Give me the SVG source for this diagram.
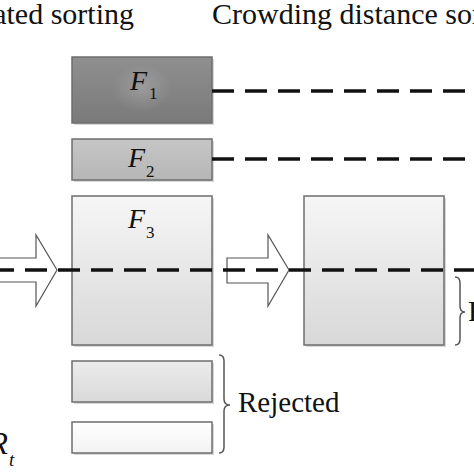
<svg xmlns="http://www.w3.org/2000/svg" width="474" height="474" viewBox="0 0 474 474">
<defs>
<linearGradient id="gF1" x1="0" y1="0" x2="0" y2="1"><stop offset="0" stop-color="#8f8f8f"/><stop offset="1" stop-color="#7a7a7a"/></linearGradient>
<linearGradient id="gF2" x1="0" y1="0" x2="0" y2="1"><stop offset="0" stop-color="#c6c6c6"/><stop offset="1" stop-color="#b6b6b6"/></linearGradient>
<linearGradient id="gF3" x1="0" y1="0" x2="0" y2="1"><stop offset="0" stop-color="#f6f6f6"/><stop offset="1" stop-color="#d8d8d8"/></linearGradient>
<linearGradient id="gR1" x1="0" y1="0" x2="0" y2="1"><stop offset="0" stop-color="#ececec"/><stop offset="1" stop-color="#d9d9d9"/></linearGradient>
<linearGradient id="gR2" x1="0" y1="0" x2="0" y2="1"><stop offset="0" stop-color="#ffffff"/><stop offset="1" stop-color="#f3f3f3"/></linearGradient>
<radialGradient id="glow" cx="0.5" cy="0.5" r="0.5"><stop offset="0" stop-color="#ffffff" stop-opacity="0.18"/><stop offset="1" stop-color="#ffffff" stop-opacity="0"/></radialGradient>
</defs>
<style>
.box{stroke:#6e6e6e;stroke-width:1.5}
.shadow{fill:#c8c8c8;opacity:0.7}
.dash{stroke:#111;stroke-width:3.5;fill:none;stroke-dasharray:22 11}
.arrow{fill:#fff;stroke:#555;stroke-width:1.2}
.brace{fill:none;stroke:#555;stroke-width:1.5}
.t{font-family:"Liberation Serif","Times New Roman",serif;fill:#111}
.it{font-family:"Liberation Serif","Times New Roman",serif;font-style:italic;fill:#111}
</style>
<rect width="474" height="474" fill="#fff"/>
<g id="titles">
<text class="t" x="134" y="24" font-size="30" text-anchor="end">Non-dominated sorting</text>
<text class="t" x="212" y="24" font-size="30">Crowding distance sorting</text>
</g>
<g id="nodeF1">
<rect class="shadow" x="74" y="59" width="140" height="66"/>
<rect class="box" x="72" y="57" width="140" height="66" fill="url(#gF1)"/>
<ellipse cx="142" cy="88" rx="30" ry="24" fill="url(#glow)"/>
<text class="it" x="130" y="90" font-size="28">F</text>
<text class="t" x="149" y="99" font-size="17">1</text>
</g>
<g id="nodeF2">
<rect class="shadow" x="74" y="141" width="140" height="41"/>
<rect class="box" x="72" y="139" width="140" height="41" fill="url(#gF2)"/>
<text class="it" x="128" y="167" font-size="28">F</text>
<text class="t" x="146" y="177" font-size="17">2</text>
</g>
<g id="nodeF3">
<rect class="shadow" x="74" y="198" width="140" height="149"/>
<rect class="box" x="72" y="196" width="140" height="149" fill="url(#gF3)"/>
<text class="it" x="128" y="228" font-size="28">F</text>
<text class="t" x="146" y="238" font-size="17">3</text>
</g>
<g id="nodeRej1">
<rect class="shadow" x="74" y="363" width="140" height="41"/>
<rect class="box" x="72" y="361" width="140" height="41" fill="url(#gR1)"/>
</g>
<g id="nodeRej2">
<rect class="shadow" x="74" y="424" width="140" height="31"/>
<rect class="box" x="72" y="422" width="140" height="31" fill="url(#gR2)"/>
</g>
<g id="nodeCrowd">
<rect class="shadow" x="306" y="198" width="140" height="149"/>
<rect class="box" x="304" y="196" width="140" height="149" fill="url(#gF3)"/>
</g>
<g id="labelRt">
<text class="it" x="-11" y="454" font-size="31">R</text>
<text class="it" x="9" y="466" font-size="19">t</text>
</g>
<g id="connectors">
<path class="arrow" d="M-5,258 L36,258 L36,235 L57,270 L36,306 L36,282 L-5,282 Z"/>
<path class="arrow" d="M227,258 L268,258 L268,235 L289,270 L268,306 L268,283 L227,283 Z"/>
<line class="dash" x1="212" y1="91" x2="474" y2="91"/>
<line class="dash" x1="212" y1="159" x2="474" y2="159"/>
<line class="dash" x1="-8" y1="270" x2="474" y2="270"/>
<path class="brace" d="M219,355 Q224,355 224,361 L224,399 Q224,405 230,405 Q224,405 224,411 L224,447 Q224,453 219,453"/>
<path class="brace" d="M455,277 Q460,277 460,283 L460,306 Q460,312 465,312 Q460,312 460,318 L460,339 Q460,345 455,345"/>
</g>
<g id="labels">
<text class="t" x="238" y="412" font-size="29">Rejected</text>
<text class="t" x="468" y="321" font-size="29">Rejected</text>
</g>
</svg>
